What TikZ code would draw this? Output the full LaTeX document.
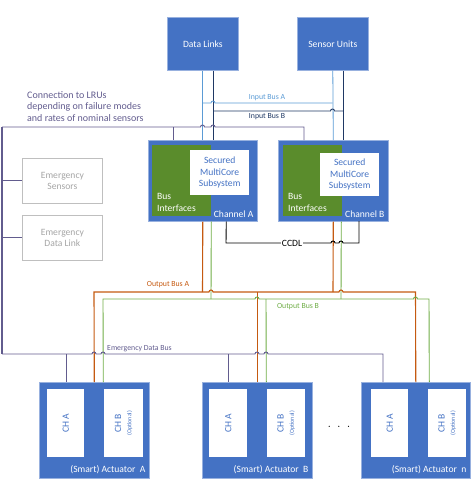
\documentclass[tikz,border=0pt]{standalone}
\usepackage{fontspec}
\setsansfont{Carlito}
\usetikzlibrary{calc}

\definecolor{boxblue}{HTML}{4472C4}
\definecolor{ifgreen}{HTML}{5A8C2C}
\definecolor{inblue}{HTML}{5B9BD5}
\definecolor{innavy}{HTML}{1F3864}
\definecolor{lrupurple}{HTML}{625C8E}
\definecolor{outorange}{HTML}{C55A11}
\definecolor{outgreen}{HTML}{70AD47}
\definecolor{emline}{HTML}{BFBFBF}
\definecolor{emtext}{HTML}{A6A6A6}

% a small bridge where a line jumps over another
\newcommand{\hop}[2]{-- (#1-2,#2) arc[start angle=180, end angle=0, radius=2pt]}

\tikzset{
  bluebox/.style={fill=boxblue, draw=boxblue!55!white, line width=0.6pt, anchor=north west, inner sep=0pt},
  greenbox/.style={fill=ifgreen, draw=none, anchor=north west, inner sep=0pt},
  whitebox/.style={fill=white, draw=none, anchor=north west, inner sep=0pt, text=boxblue, align=center},
  embox/.style={fill=white, draw=emline, line width=0.8pt, anchor=north west, inner sep=0pt, text=emtext, align=center},
  boxtext/.style={text=white, inner sep=0pt, font=\sffamily\fontsize{9.6}{11.3}\selectfont},
  buslabel/.style={inner sep=0pt, font=\sffamily\fontsize{7.8}{9}\selectfont},
  inA/.style={draw=inblue, line width=0.8pt},
  inB/.style={draw=innavy, line width=0.9pt},
  lru/.style={draw=lrupurple, line width=0.9pt},
  outA/.style={draw=outorange, line width=1.1pt},
  outB/.style={draw=outgreen, line width=0.9pt},
  ccdl/.style={draw=black, line width=0.9pt},
}

\begin{document}
\begin{tikzpicture}[x=1pt, y=-1pt, font=\sffamily\fontsize{9.6}{11.3}\selectfont, line join=miter]
  \useasboundingbox (0,0) rectangle (474,482);

  % sources
  \node[bluebox, minimum width=71, minimum height=53, text=white] (datalinks) at (167,17) {Data Links};
  \node[bluebox, minimum width=71, minimum height=53, text=white] (sensors) at (297,17) {Sensor Units};

  % channels
  \node[bluebox, minimum width=109, minimum height=81] (chA) at (148,140) {};
  \node[greenbox, minimum width=59, minimum height=71] (busifA) at (152,145) {};
  \node[whitebox, minimum width=59, minimum height=45] (secA) at (190,150) {Secured\\MultiCore\\Subsystem};
  \node[boxtext, anchor=south west, align=left] at ($(busifA.south west)+(5,-5)$) {Bus\\Interfaces};
  \node[boxtext, anchor=south east] at ($(chA.south east)+(-4,-4)$) {Channel A};

  \node[bluebox, minimum width=110, minimum height=81] (chB) at (278,140) {};
  \node[greenbox, minimum width=59, minimum height=71] (busifB) at (283,145) {};
  \node[whitebox, minimum width=59, minimum height=43] (secB) at (320,153) {Secured\\MultiCore\\Subsystem};
  \node[boxtext, anchor=south west, align=left] at ($(busifB.south west)+(5,-5)$) {Bus\\Interfaces};
  \node[boxtext, anchor=south east] at ($(chB.south east)+(-4,-4)$) {Channel B};

  % emergency units
  \node[embox, minimum width=80, minimum height=45] (emsens) at (22,158) {Emergency\\Sensors};
  \node[embox, minimum width=80, minimum height=45] (emlink) at (22,215) {Emergency\\Data Link};

  % actuators
  \node[bluebox, minimum width=110, minimum height=96] (actA) at (39,382) {};
  \node[whitebox, minimum width=37, minimum height=68] (actAchA) at (47,389) {};
  \node[whitebox, minimum width=39, minimum height=68] (actAchB) at (104,389) {};
  \node[boxtext, anchor=south east] at ($(actA.south east)+(-4,-5)$) {(Smart) Actuator\ \ A};

  \node[bluebox, minimum width=110, minimum height=96] (actB) at (202,382) {};
  \node[whitebox, minimum width=38, minimum height=68] (actBchA) at (209,389) {};
  \node[whitebox, minimum width=38, minimum height=68] (actBchB) at (267,389) {};
  \node[boxtext, anchor=south east] at ($(actB.south east)+(-4,-5)$) {(Smart) Actuator\ \ B};

  \node[bluebox, minimum width=109, minimum height=96] (actN) at (361,382) {};
  \node[whitebox, minimum width=37, minimum height=68] (actNchA) at (371,389) {};
  \node[whitebox, minimum width=38, minimum height=68] (actNchB) at (428,389) {};
  \node[boxtext, anchor=south east] at ($(actN.south east)+(-4,-5)$) {(Smart) Actuator\ \ n};

  \foreach \act in {actA, actB, actN}{
    \node[rotate=90, text=boxblue, inner sep=0pt] at (\act chA) {CH A};
    \node[rotate=90, text=boxblue, inner sep=0pt, align=center] at (\act chB) {CH B\\[-1pt]{\fontsize{6}{7}\selectfont(Optional)}};
  }
  \node[inner sep=0pt, font=\fontsize{13}{13}\selectfont] (dots) at (339,427) {.\hspace{6pt}.\hspace{6pt}.};

  % bus tap points
  \coordinate (lruL) at (2,127);
  \coordinate (lruA) at (173,127);
  \coordinate (lruB) at (304,127);
  \coordinate (edbL) at (2,354);
  \coordinate (edbA) at (66,354);
  \coordinate (edbB) at (228,354);
  \coordinate (edbN) at (383,354);

  % input buses
  \draw[inA] (datalinks.south) -- (chA.north);
  \draw[inA] (sensors.south) -- (chB.north);
  \draw[inB] ($(datalinks.south)+(10.5,0)$) -- ($(chA.north)+(10.5,0)$);
  \draw[inB] ($(sensors.south)+(10.5,0)$) -- ($(chB.north)+(10,0)$);
  \draw[inA] (202.5,103) \hop{213}{103} -- (332.5,103);
  \draw[inB] (213,111) \hop{332.5}{111} -- (343,111);
  \node[buslabel, text=inblue] (inAlabel) at (267,98) {Input Bus A};
  \node[buslabel, text=innavy] (inBlabel) at (267,117) {Input Bus B};

  % connection to LRUs
  \draw[lru] (lruL) \hop{202.5}{127} \hop{213}{127} -- (lruB) -- (lruB |- chB.north);
  \draw[lru] (lruA) -- (lruA |- chA.north);
  \draw[lru, line width=1.3pt] (lruL) -- (edbL);
  \draw[lru] (emsens.west -| edbL) -- (emsens.west);
  \draw[lru] (emlink.west -| edbL) -- (emlink.west);
  \node[inner sep=0pt, text=lrupurple, anchor=north west, align=left, font=\sffamily\fontsize{10}{11.5}\selectfont] (lrutext) at (27,91) {Connection to LRUs\\depending on failure modes\\and rates of nominal sensors};

  % channel outputs and cross channel link
  \draw[outA] (chA.south) -- (202.5,292);
  \draw[outB] ($(chA.south)+(8.5,0)$) -- (211,299);
  \draw[outA] (chB.south) -- (333,292);
  \draw[outB] ($(chB.south)+(8,0)$) -- (341,299);
  \draw[ccdl] ($(chA.south)+(23.5,0)$) -- (226,243) \hop{333}{243} \hop{341}{243} -- (359,243) -- (359,221);
  \node[buslabel, fill=white, inner xsep=1pt, font=\sffamily\fontsize{9.6}{11}\selectfont] (ccdllabel) at (292,243) {CCDL};

  % output buses
  \draw[outA] (actA.north) -- (94,292) \hop{211}{292} \hop{341}{292} -- (415.5,292) -- (actN.north);
  \draw[outA] (actB.north |- 0,292) -- (actB.north);
  \draw[outB] ($(actA.north)+(9,0)$) -- (103,299) \hop{257}{299} \hop{415.5}{299} -- (429,299) -- ($(actN.north)+(13.5,0)$);
  \draw[outB] (266,299) -- ($(actB.north)+(9,0)$);
  \node[buslabel, text=outorange] (outAlabel) at (168,285) {Output Bus A};
  \node[buslabel, text=outgreen] (outBlabel) at (298,307) {Output Bus B};

  % emergency data bus
  \draw[lru] (edbL) \hop{94}{354} \hop{103}{354} \hop{257}{354} \hop{266}{354} -- (edbN) -- (edbN |- actN.north);
  \draw[lru] (edbA) -- (edbA |- actA.north);
  \draw[lru] (edbB) -- (edbB |- actB.north);
  \node[buslabel, text=lrupurple, anchor=west] (edblabel) at (107,349) {Emergency Data Bus};
\end{tikzpicture}
\end{document}
